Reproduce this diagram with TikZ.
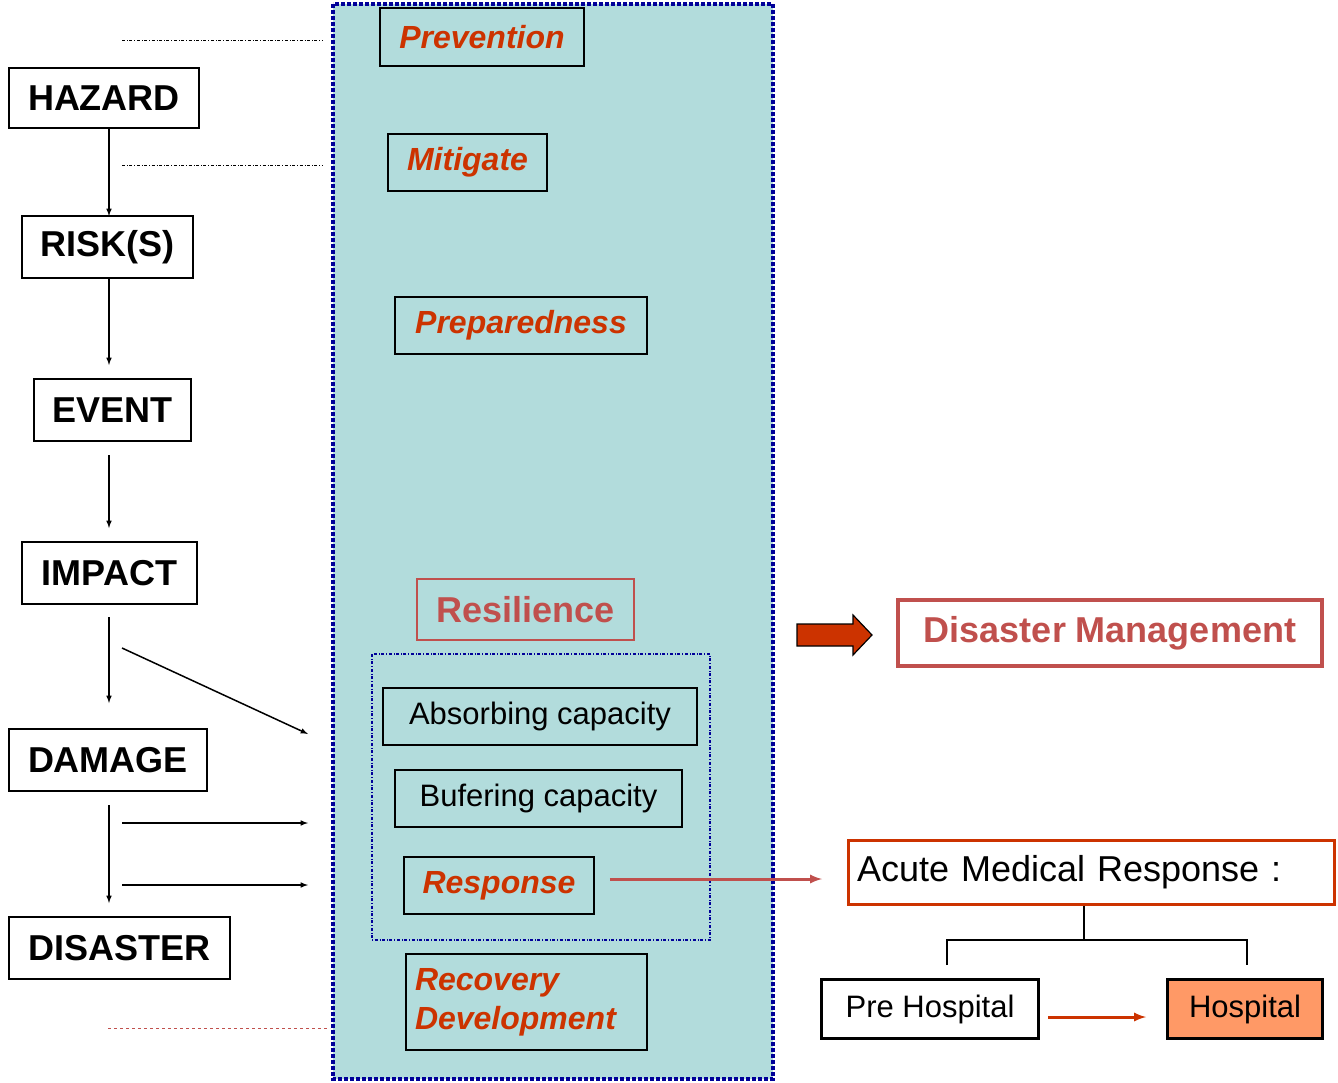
\documentclass[tikz,border=0pt]{standalone}
\usepackage{fontspec}
\setmainfont{Liberation Sans}
\definecolor{teal}{HTML}{B2DCDC}
\definecolor{navy}{HTML}{000099}
\definecolor{rr}{HTML}{C0504D}
\definecolor{or}{HTML}{CC3300}
\definecolor{sal}{HTML}{FF9966}
\begin{document}
\begin{tikzpicture}[x=1pt,y=-1pt,
 bx/.style={draw,line width=1.5pt,inner sep=0pt,font=\fontsize{36}{40}\selectfont\bfseries},
 it/.style={draw,line width=1.5pt,inner sep=0pt,text=or,font=\fontsize{32}{38}\selectfont\bfseries\itshape},
 pl/.style={draw,line width=1.5pt,inner sep=0pt,font=\fontsize{31}{36}\selectfont},
 ar/.style={-latex,line width=1.5pt}]
\useasboundingbox (0,0) rectangle (1338,1083);
\draw[fill=teal,draw=navy,line width=4pt,dotted] (333,4) rectangle (773,1079);
\draw[navy,dash dot,line width=1.2pt] (372,654) rectangle (710,940);
% left chain
\node[bx,minimum width=190,minimum height=60] (haz) at (104,98) {HAZARD};
\node[bx,minimum width=171,minimum height=62] (risk) at (107.5,247) {RISK(S)};
\node[bx,minimum width=157,minimum height=62] (ev) at (112.5,410) {EVENT};
\node[bx,minimum width=175,minimum height=62] (imp) at (109.5,573) {IMPACT};
\node[bx,minimum width=198,minimum height=62] (dam) at (108,760) {DAMAGE};
\node[bx,minimum width=221,minimum height=62] (dis) at (119.5,948) {DISASTER};
\coordinate (a1) at (109,216); \coordinate (a2) at (109,365);
\coordinate (e0) at (109,455); \coordinate (a3) at (109,528);
\coordinate (i0) at (109,617); \coordinate (a4) at (109,703);
\coordinate (d0) at (109,805); \coordinate (a5) at (109,903);
\draw[ar] (haz.south -| a1) -- (a1);
\draw[ar] (risk.south -| a2) -- (a2);
\draw[ar] (e0) -- (a3);
\draw[ar] (i0) -- (a4);
\draw[ar] (d0) -- (a5);
\coordinate (g1) at (122,648); \coordinate (g2) at (308,734);
\draw[ar] (g1) -- (g2);
\coordinate (h1) at (122,823); \coordinate (h2) at (308,823);
\draw[ar] (h1) -- (h2);
\coordinate (k1) at (122,885); \coordinate (k2) at (308,885);
\draw[ar] (k1) -- (k2);
\coordinate (l1) at (122,41); \coordinate (l2) at (322,41);
\draw[dash dot,line width=1pt] (l1) -- (l2);
\coordinate (m1) at (122,166); \coordinate (m2) at (322,166);
\draw[dash dot,line width=1pt] (m1) -- (m2);
\coordinate (n1) at (108,1028); \coordinate (n2) at (330,1028);
\draw[rr,dashed,line width=1pt] (n1) -- (n2);
% inner
\node[it,minimum width=204,minimum height=58] (prev) at (482,37) {Prevention};
\node[it,minimum width=159,minimum height=57] (mit) at (467.5,162.5) {Mitigate};
\node[it,minimum width=252,minimum height=57] (prep) at (521,325.5) {Preparedness};
\node[draw=rr,line width=1.5pt,inner sep=0pt,text=rr,minimum width=217,minimum height=61,font=\fontsize{36}{40}\selectfont\bfseries] (res) at (525.5,609.5) {Resilience};
\node[pl,minimum width=314,minimum height=57] (abs) at (540,716.5) {Absorbing capacity};
\node[pl,minimum width=287,minimum height=57] (buf) at (538.5,798.5) {Bufering capacity};
\node[it,minimum width=190,minimum height=57] (resp) at (499,885.5) {Response};
\node[it,minimum width=241,minimum height=96,align=left,text width=223,font=\fontsize{32}{39}\selectfont\bfseries\itshape] (rec) at (526.5,1002) {Recovery\\Development};
% right
\draw[fill=or,line width=1.2pt] (797,624) -- (853,624) -- (853,615) -- (872,635) -- (853,655) -- (853,646) -- (797,646) -- cycle;
\node[draw=rr,line width=4pt,inner sep=0pt,text=rr,minimum width=424,minimum height=66,font=\fontsize{36}{40}\selectfont\bfseries] (dm) at (1110,633) {Disaster Management};
\node[draw=or,line width=3pt,inner sep=0pt,minimum width=486,minimum height=64,align=left,text width=468,font=\fontsize{36}{40}\selectfont] (amr) at (1091,872) {Acute Medical Response :};
\node[draw,line width=3.5pt,inner sep=0pt,minimum width=217,minimum height=59,font=\fontsize{31}{36}\selectfont] (pre) at (930,1009) {Pre Hospital};
\node[draw,fill=sal,line width=3.5pt,inner sep=0pt,minimum width=155,minimum height=59,font=\fontsize{31}{36}\selectfont] (hos) at (1245,1009) {Hospital};
\coordinate (r2) at (822,879);
\draw[-latex,rr,line width=3pt] (resp.east |- r2) ++(15,0) -- (r2);
\coordinate (t0) at (1084,940);
\draw[line width=1.5pt] (amr.south -| t0) -- (t0);
\draw[line width=1.5pt] (947,965) -- (947,940) -- (1247,940) -- (1247,965);
\coordinate (p1) at (1048,1017); \coordinate (p2) at (1146,1017);
\draw[-latex,or,line width=3pt] (p1) -- (p2);
\end{tikzpicture}
\end{document}
